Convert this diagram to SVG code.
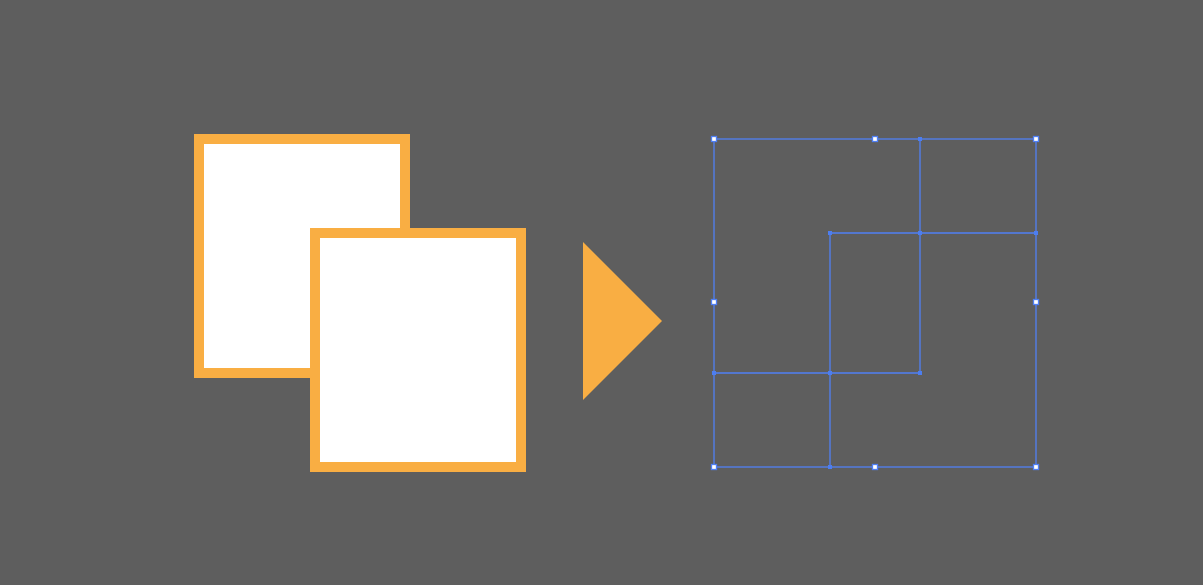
<svg xmlns="http://www.w3.org/2000/svg" width="1203" height="585" viewBox="0 0 1203 585">
<style>
.sq{fill:#ffffff;stroke:#f9ae43;stroke-width:10}
.ln{fill:none;stroke:#5080f5;stroke-width:1.3}
.h{fill:#ffffff;stroke:#5080f5;stroke-width:1.3}
.p{fill:#4d7ef0}
</style>
<rect width="1203" height="585" fill="#5e5e5e"/>
<g id="square1"><rect class="sq" x="199" y="139" width="206" height="234"/></g>
<g id="square2"><rect class="sq" x="315" y="233" width="206" height="234"/></g>
<g id="arrow"><polygon points="583,242 662,321 583,400" fill="#f9ae43"/></g>
<g id="result">
<g id="connectors">
<rect class="ln" x="714" y="139" width="322" height="328"/>
<path class="ln" d="M920,139V373H714M830,467V233H1036"/>
</g>
<g id="points">
<rect class="p" x="918" y="137" width="4" height="4"/>
<rect class="p" x="828" y="231" width="4" height="4"/>
<rect class="p" x="918" y="231" width="4" height="4"/>
<rect class="p" x="1034" y="231" width="4" height="4"/>
<rect class="p" x="712" y="371" width="4" height="4"/>
<rect class="p" x="828" y="371" width="4" height="4"/>
<rect class="p" x="918" y="371" width="4" height="4"/>
<rect class="p" x="828" y="465" width="4" height="4"/>
</g>
<g id="handles">
<rect class="h" x="711.5" y="136.5" width="5" height="5"/>
<rect class="h" x="872.5" y="136.5" width="5" height="5"/>
<rect class="h" x="1033.5" y="136.5" width="5" height="5"/>
<rect class="h" x="711.5" y="299.5" width="5" height="5"/>
<rect class="h" x="1033.5" y="299.5" width="5" height="5"/>
<rect class="h" x="711.5" y="464.5" width="5" height="5"/>
<rect class="h" x="872.5" y="464.5" width="5" height="5"/>
<rect class="h" x="1033.5" y="464.5" width="5" height="5"/>
</g>
</g>
</svg>
